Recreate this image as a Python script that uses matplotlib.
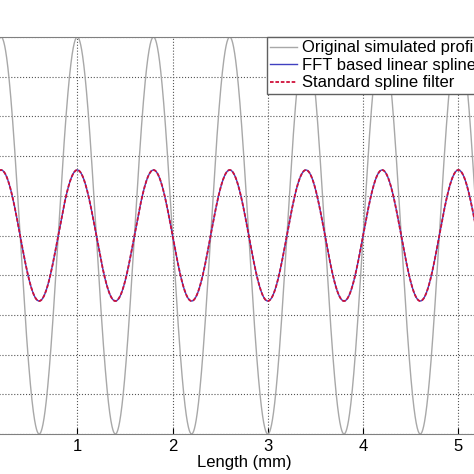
import numpy as np
import matplotlib
matplotlib.use("Agg")
import matplotlib.pyplot as plt

plt.rcParams['font.family'] = ['Liberation Sans', 'DejaVu Sans']

# Values
series_names = ["Original simulated profile", "FFT based linear spline", "Standard spline filter"]
amplitudes = [1.0, 0.33, 0.33]          # peak heights of each series
wavelength_mm = 0.8                      # distance between peaks
peak_position_mm = 1.0                   # a peak of all curves
x_ticks = [1, 2, 3, 4, 5]
y_ticks = [-1.0, -0.8, -0.6, -0.4, -0.2, 0.0, 0.2, 0.4, 0.6, 0.8, 1.0]

x = np.linspace(0, 5.5, 3000)
phase = np.cos(2 * np.pi * (x - peak_position_mm) / wavelength_mm)

fig = plt.figure(figsize=(4.74, 4.74), dpi=100)
ax = fig.add_axes([-18/474, 40/474, 524/474, 397/474])
ax.plot(x, amplitudes[0] * phase, color='#a8a8a8', lw=1.0, label=series_names[0])
ax.plot(x, amplitudes[1] * phase, color='#4040c0', lw=1.0, label=series_names[1])
ax.plot(x, amplitudes[2] * phase, color='#d0103a', lw=1.3, ls=(0, (2.0, 1.0)), label=series_names[2])

ax.set_xlim(0, 5.5)
ax.set_ylim(-1, 1)
ax.set_xticks(x_ticks)
ax.set_yticks(y_ticks)
ax.set_yticklabels([])
ax.tick_params(direction='in', labelsize=12, length=4)
ax.grid(True, ls=':', color='#555555', lw=0.8)
for s in ax.spines.values():
    s.set_color('#808080')
ax.set_xlabel("Length (mm)", fontsize=12, labelpad=1)

leg = ax.legend(loc='upper left', bbox_to_anchor=(267/474, 1 - 37/474),
                bbox_transform=fig.transFigure, fontsize=12, fancybox=False,
                framealpha=1, edgecolor='#606060', borderaxespad=0,
                handlelength=1.6, handletextpad=0.3, labelspacing=0.15,
                borderpad=0.2)
fig.savefig("out.png", dpi=100)
